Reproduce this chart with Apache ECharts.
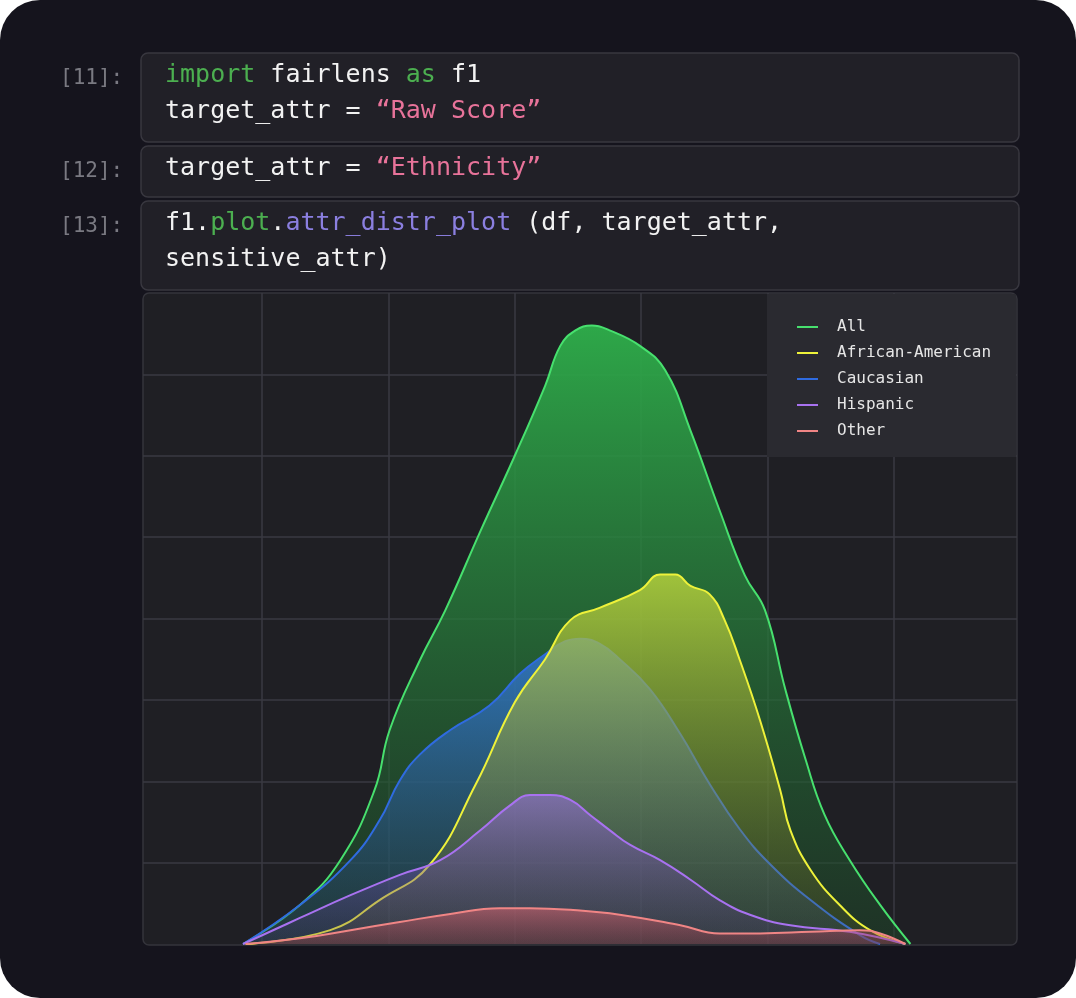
<!DOCTYPE html>
<html><head><meta charset="utf-8">
<script src="https://cdn.jsdelivr.net/npm/echarts@6/dist/echarts.min.js"></script>
<style>html,body{margin:0;background:#fff}#c{width:1076px;height:998px}</style>
</head><body><div id="c"></div>
<script>
const seriesNames = ['All','African-American','Caucasian','Hispanic','Other'];
const allData = [[0.85,0],[1.30,0.48],[1.62,1.03],[1.89,1.89],[2.01,2.63],[2.25,3.49],[2.45,4.10],[2.73,5.08],[3.00,6.00],[3.24,6.86],[3.36,7.35],[3.48,7.54],[3.61,7.60],[3.75,7.54],[3.99,7.35],[4.19,7.05],[4.39,6.31],[4.62,5.33],[4.82,4.53],[4.98,4.10],[5.14,3.13],[5.30,2.27],[5.45,1.59],[5.65,1.03],[5.89,0.48],[6.13,0]];
const africanAmerican = [[0.87,0],[1.54,0.17],[1.93,0.54],[2.33,0.98],[2.69,1.96],[3.00,2.97],[3.24,3.50],[3.44,3.98],[3.67,4.13],[3.99,4.35],[4.15,4.54],[4.27,4.54],[4.39,4.40],[4.54,4.30],[4.66,3.98],[4.78,3.49],[4.94,2.75],[5.10,1.89],[5.18,1.40],[5.34,0.91],[5.57,0.48],[5.81,0.17],[6.09,0]];
const caucasian = [[0.85,0],[1.30,0.48],[1.70,1.03],[1.93,1.52],[2.09,2.01],[2.25,2.33],[2.49,2.63],[2.80,2.93],[3.04,3.32],[3.24,3.56],[3.40,3.72],[3.52,3.75],[3.67,3.69],[3.83,3.50],[4.07,3.13],[4.31,2.58],[4.54,1.97],[4.78,1.41],[5.02,0.98],[5.34,0.54],[5.73,0.11],[5.89,0]];
const hispanic = [[0.85,0],[1.30,0.32],[1.70,0.60],[2.09,0.85],[2.41,1.03],[2.73,1.40],[2.96,1.70],[3.12,1.83],[3.28,1.83],[3.44,1.77],[3.60,1.58],[3.75,1.40],[3.91,1.22],[4.15,1.03],[4.39,0.79],[4.62,0.54],[4.86,0.36],[5.18,0.23],[5.65,0.15],[6.09,0]];
const other = [[0.87,0],[1.30,0.07],[1.70,0.17],[2.09,0.27],[2.49,0.37],[2.88,0.44],[3.12,0.44],[3.44,0.42],[3.83,0.36],[4.31,0.23],[4.62,0.13],[4.94,0.13],[5.34,0.15],[5.73,0.17],[5.89,0.13],[6.09,0]];
const cellLabels = ['[11]:','[12]:','[13]:'];

const mono = '"DejaVu Sans Mono", monospace';
function tok(c){return {fill:c,font:'25px '+mono,lineHeight:36};}
const rich = {w:tok('#f2f2f2'),g:tok('#4caf50'),p:tok('#e8739a'),v:tok('#8b7fe0')};
function grad(top,bot){return {type:'linear',x:0,y:0,x2:0,y2:1,colorStops:[{offset:0,color:top},{offset:1,color:bot}]};}
const gl='#3a3a42';
const colors=['#47e06e','#eef23a','#2f6be0','#a872f0','#f08585'];
function s(name,data,ci,fill,z){return {name,type:'line',data,smooth:0.45,symbol:'none',z,xAxisIndex:0,yAxisIndex:0,
  lineStyle:{color:colors[ci],width:2},itemStyle:{color:colors[ci]},areaStyle:{color:fill,opacity:1}};}

const chart = echarts.init(document.getElementById('c'));
const cells=[[53,89],[146,51],[201,89]];
const gfx=[
  {type:'rect',shape:{x:0,y:0,width:1076,height:998,r:40},style:{fill:'#15141d'},z:-20},
  {type:'rect',shape:{x:143,y:293,width:874,height:652,r:6},style:{fill:'#1f1f24',stroke:'#34343b',lineWidth:1.5},z:-10},
  {type:'rect',shape:{x:767,y:294,width:249,height:163},style:{fill:'#2a2a30'},z:1}
];
cells.forEach((c,i)=>{
  gfx.push({type:'rect',shape:{x:141,y:c[0],width:878,height:c[1],r:7},style:{fill:'#212027',stroke:'#38373f',lineWidth:1.5},z:-10});
  gfx.push({type:'text',left:60,top:c[0]+15,style:{text:cellLabels[i],fill:'#7a7a82',font:'21px '+mono},z:5});
});
gfx.push({type:'text',left:165,top:63,style:{text:'{g|import}{w| fairlens }{g|as}{w| f1}\n{w|target_attr = }{p|“Raw Score”}',rich},z:5});
gfx.push({type:'text',left:165,top:156,style:{text:'{w|target_attr = }{p|“Ethnicity”}',rich},z:5});
gfx.push({type:'text',left:165,top:211,style:{text:'{w|f1.}{g|plot}{w|.}{v|attr_distr_plot}{w| (df, target_attr,}\n{w|sensitive_attr)}',rich},z:5});

const tr='rgba(0,0,0,0)';
const hid={axisLine:{show:false},axisTick:{show:false},axisLabel:{show:false}};
chart.setOption({
  animation:false,
  graphic:gfx,
  grid:[{left:135.6,width:884.8,top:293,height:651},{left:143,width:874,top:293,height:651}],
  xAxis:[{type:'value',min:0,max:7,interval:1,gridIndex:0,...hid,
    splitLine:{show:true,lineStyle:{color:[tr,gl,gl,gl,gl,gl,gl,tr],width:1.5}}},
    {type:'value',min:0,max:1,gridIndex:1,...hid,splitLine:{show:false}}],
  yAxis:[{type:'value',min:0,max:8,interval:1,gridIndex:0,...hid,splitLine:{show:false}},
    {type:'value',min:0,max:8,interval:1,gridIndex:1,...hid,
    splitLine:{show:true,lineStyle:{color:[tr,gl,gl,gl,gl,gl,gl,gl,tr],width:1.5}}}],
  legend:{data:seriesNames,orient:'vertical',left:792,top:314,itemWidth:21,itemHeight:2,itemGap:10,icon:'rect',
    textStyle:{color:'#e6e6e6',fontFamily:mono,fontSize:16,padding:[0,0,0,14]}},
  series:[
    s('All',allData,0,grad('rgba(46,172,74,0.97)','rgba(30,70,40,0.5)'),2),
    s('Caucasian',caucasian,2,grad('rgba(50,120,215,0.85)','rgba(40,70,130,0.2)'),3),
    s('African-American',africanAmerican,1,grad('rgba(190,215,60,0.8)','rgba(120,110,40,0.15)'),4),
    s('Hispanic',hispanic,3,grad('rgba(150,110,220,0.6)','rgba(80,50,120,0.2)'),5),
    s('Other',other,4,grad('rgba(220,100,110,0.55)','rgba(150,60,70,0.35)'),6)
  ]
});
</script></body></html>
